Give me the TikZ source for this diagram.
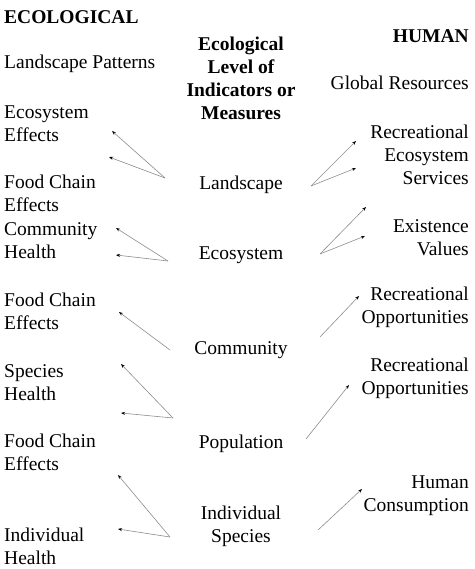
\documentclass[tikz,border=0pt]{standalone}
\usepackage{fontspec}
\setmainfont{Liberation Serif}
\usetikzlibrary{arrows.meta}
\tikzset{
  txt/.style={inner sep=0pt, yshift=-2pt, font=\fontsize{19.5}{23}\selectfont},
  ltxt/.style={txt, anchor=west, align=left},
  ctxt/.style={txt, anchor=center, align=center},
  rtxt/.style={txt, anchor=east, align=right},
  hdr/.style={font=\fontsize{19.5}{23}\selectfont\bfseries},
  link/.style={draw=black!45, line width=0.6pt, -{Stealth[length=4pt,width=3pt,black]}}
}
\begin{document}
\begin{tikzpicture}[x=1pt,y=-1pt]
\useasboundingbox (0,0) rectangle (474,569);
% left column
\node[ltxt,hdr] (ecol) at (4,15) {ECOLOGICAL};
\node[ltxt] (lp) at (4,62) {Landscape Patterns};
\node[ltxt] (ee) at (4,121.5) {Ecosystem\\Effects};
\node[ltxt] (fc1) at (4,191.5) {Food Chain\\Effects};
\node[ltxt] (ch) at (4,238.5) {Community\\Health};
\node[ltxt] (fc2) at (4,309.5) {Food Chain\\Effects};
\node[ltxt] (sh) at (4,380.5) {Species\\Health};
\node[ltxt] (fc3) at (4,450.5) {Food Chain\\Effects};
\node[ltxt] (ih) at (4,544.5) {Individual\\Health};
% center column
\node[ctxt,hdr] (lev) at (241,76.5) {Ecological\\Level of\\Indicators or\\Measures};
\node[ctxt] (land) at (241,183) {Landscape};
\node[ctxt] (eco) at (241,253) {Ecosystem};
\node[ctxt] (com) at (241,348) {Community};
\node[ctxt] (pop) at (241,442) {Population};
\node[ctxt] (ind) at (241,524) {Individual\\Species};
% right column
\node[rtxt,hdr] (hum) at (469,34) {HUMAN};
\node[rtxt] (gr) at (469,81) {Global Resources};
\node[rtxt] (res) at (469,153) {Recreational\\Ecosystem\\Services};
\node[rtxt] (ev) at (469,235.5) {Existence\\Values};
\node[rtxt] (ro1) at (469,305.5) {Recreational\\Opportunities};
\node[rtxt] (ro2) at (469,376.5) {Recreational\\Opportunities};
\node[rtxt] (hc) at (469,493.5) {Human\\Consumption};
% arrow end points
\coordinate (sL1) at (165,178);
\coordinate (tL1a) at (112,131);
\coordinate (tL1b) at (109,157);
\coordinate (sL2) at (168,261);
\coordinate (tL2a) at (116,228);
\coordinate (tL2b) at (116,255);
\coordinate (sL3) at (170,350);
\coordinate (tL3) at (119,312);
\coordinate (sL4) at (173,418);
\coordinate (tL4a) at (121,364);
\coordinate (tL4b) at (121,413);
\coordinate (sL5) at (170,537);
\coordinate (tL5a) at (118,475);
\coordinate (tL5b) at (118,529);
\coordinate (sR1) at (311,186);
\coordinate (tR1a) at (356,141);
\coordinate (tR1b) at (356,168);
\coordinate (sR2) at (320,254);
\coordinate (tR2a) at (366,207);
\coordinate (tR2b) at (365,236);
\coordinate (sR3) at (320,337);
\coordinate (tR3) at (359,296);
\coordinate (sR4) at (306,439);
\coordinate (tR4) at (349,385);
\coordinate (sR5) at (318,530);
\coordinate (tR5) at (362,489);
% arrows
\draw[link] (sL1) -- (tL1a);
\draw[link] (sL1) -- (tL1b);
\draw[link] (sL2) -- (tL2a);
\draw[link] (sL2) -- (tL2b);
\draw[link] (sL3) -- (tL3);
\draw[link] (sL4) -- (tL4a);
\draw[link] (sL4) -- (tL4b);
\draw[link] (sL5) -- (tL5a);
\draw[link] (sL5) -- (tL5b);
\draw[link] (sR1) -- (tR1a);
\draw[link] (sR1) -- (tR1b);
\draw[link] (sR2) -- (tR2a);
\draw[link] (sR2) -- (tR2b);
\draw[link] (sR3) -- (tR3);
\draw[link] (sR4) -- (tR4);
\draw[link] (sR5) -- (tR5);
\end{tikzpicture}
\end{document}
